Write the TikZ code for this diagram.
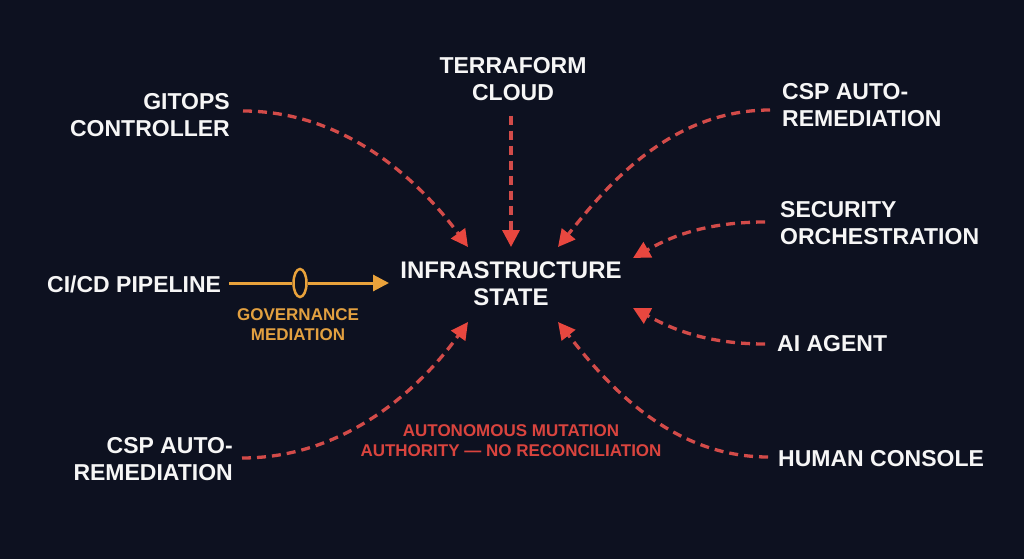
\documentclass[tikz,border=0pt]{standalone}
\usepackage{fontspec}
\setmainfont{Liberation Sans}
\usetikzlibrary{arrows.meta,calc,shapes.geometric}
\definecolor{bgcol}{HTML}{0D1120}
\definecolor{dashred}{HTML}{D24B49}
\definecolor{tipred}{HTML}{E8473F}
\definecolor{labred}{HTML}{D9443E}
\definecolor{orng}{HTML}{E9A23B}
\definecolor{orngtxt}{HTML}{E2A040}
\definecolor{wtxt}{HTML}{F6F6F6}
\tikzset{
  lab/.style={text=wtxt, font=\fontsize{23}{27}\selectfont\bfseries, inner sep=0pt},
  title/.style={text=wtxt, font=\fontsize{24}{27}\selectfont\bfseries, inner sep=0pt, align=center},
  note/.style={font=\fontsize{17}{20}\selectfont\bfseries, inner sep=0pt, align=center},
  mut/.style={draw=dashred, line width=3.3pt, dash pattern=on 9pt off 6pt,
    -{Triangle[length=17pt,width=17pt,color=tipred]}},
  gov/.style={draw=orng, line width=3pt},
}
\begin{document}
\begin{tikzpicture}[x=1pt,y=-1pt]
\fill[bgcol] (0,0) rectangle (1024,559);
\useasboundingbox (0,0) rectangle (1024,559);

% labels
\node[title, anchor=north] (state) at (511,262) {INFRASTRUCTURE\\STATE};
\node[lab, align=center, anchor=north] (terra) at (513,57) {TERRAFORM\\CLOUD};
\node[lab, align=right, anchor=north east] (gitops) at (230,93) {GITOPS\\CONTROLLER};
\node[lab, align=left, anchor=north west] (csp1) at (782,83) {CSP AUTO-\\REMEDIATION};
\node[lab, align=left, anchor=north west] (sec) at (780,201) {SECURITY\\ORCHESTRATION};
\node[lab, anchor=north west] (ai) at (777,335) {AI AGENT};
\node[lab, anchor=north west] (human) at (778,450) {HUMAN CONSOLE};
\node[lab, align=right, anchor=north east] (csp2) at (233,437) {CSP AUTO-\\REMEDIATION};
\node[lab, anchor=base west] (cicd) at (47,292) {CI/CD PIPELINE};
\node[note, text=orngtxt, anchor=north] (govtxt) at (298,308) {GOVERNANCE\\MEDIATION};
\node[note, text=labred, anchor=north] (muttxt) at (511,424) {AUTONOMOUS MUTATION\\AUTHORITY — NO RECONCILIATION};

% arrow end points
\coordinate (t1) at (468,247);
\coordinate (t2) at (511,247);
\coordinate (t3) at (558,247);
\coordinate (t4) at (633,258);
\coordinate (t5) at (633,308);
\coordinate (t6) at (558,322);
\coordinate (t7) at (468,322);
\coordinate (t8) at (389,283);

% mutation connectors
\draw[mut] ($(gitops.north east)+(13,18)$) .. controls (355,111) and (430,195) .. (t1);
\draw[mut] ($(terra.south)+(-2,15)$) -- (t2);
\draw[mut] ($(csp1.north west)+(-12,27)$) .. controls (665,110) and (600,195) .. (t3);
\draw[mut] ($(sec.north west)+(-15,21)$) .. controls (700,222) and (665,240) .. (t4);
\draw[mut] ($(ai.north west)+(-12,9)$) .. controls (700,344) and (665,325) .. (t5);
\draw[mut] ($(human.north west)+(-10,7)$) .. controls (665,457) and (600,375) .. (t6);
\draw[mut] ($(csp2.north east)+(9,21)$) .. controls (355,458) and (430,375) .. (t7);

% governed connector
\node[draw=orng, line width=2.5pt, ellipse, minimum width=13pt, minimum height=28pt, inner sep=0pt] (gate) at (300,283) {};
\draw[gov] ($(cicd.base east)+(8,-9)$) -- (gate);
\draw[gov, -{Triangle[length=16pt,width=16pt]}] (gate) -- (t8);
\end{tikzpicture}
\end{document}
